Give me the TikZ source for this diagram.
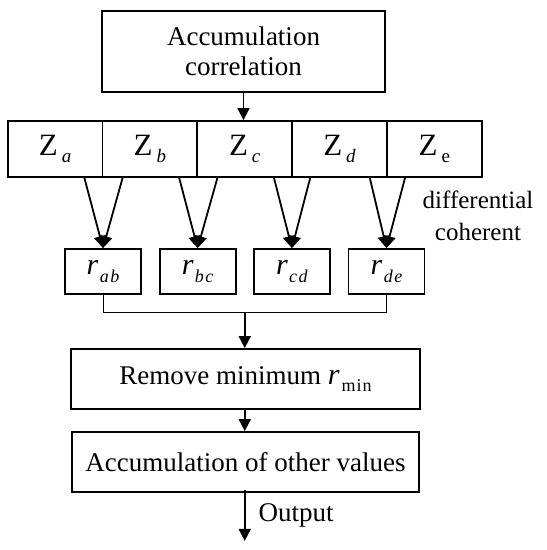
\documentclass[tikz,border=0pt]{standalone}
\usepackage{fontspec}
\setmainfont{Liberation Serif}
\usetikzlibrary{arrows.meta,calc}

\newcommand{\zsub}[1]{{\fontsize{31}{31}\selectfont Z}\kern4pt\raisebox{-7pt}{\fontsize{19}{19}\selectfont #1}}
\newcommand{\rsub}[1]{{\fontsize{30}{30}\selectfont\itshape r}\kern1.5pt\raisebox{-7.5pt}{\fontsize{18}{18}\selectfont\itshape #1}}
\newcommand{\rminlab}{{\fontsize{30}{30}\selectfont\itshape r}\kern2pt\raisebox{-7pt}{\fontsize{18}{18}\selectfont m\kern1pt i\kern1pt n}}

\begin{document}
\begin{tikzpicture}[x=1pt,y=-1pt,
  box/.style={draw, line width=1.8pt, inner sep=0pt, align=center, font=\fontsize{27}{30}\selectfont},
  zcell/.style={box, minimum width=94.8pt, minimum height=56pt},
  rcell/.style={box, minimum width=76pt, minimum height=45pt},
  arr/.style={line width=1.8pt, -{Triangle[length=12pt,width=12pt]}},
  thinline/.style={line width=0.8pt}]
\useasboundingbox (0,0) rectangle (547,550);

\node[box, minimum width=283pt, minimum height=81pt] (acc) at (243.5,51.5) {Accumulation\\correlation};

\node[zcell] (za) at (55.1,149) {\zsub{\itshape a}};
\node[zcell] (zb) at (149.9,149) {\zsub{\itshape b}};
\node[zcell] (zc) at (244.7,149) {\zsub{\itshape c}};
\node[zcell] (zd) at (339.5,149) {\zsub{\itshape d}};
\node[zcell] (ze) at (434.3,149) {\zsub{e}};

\node[rcell] (rab) at (103,271.5) {\rsub{a\kern1.5pt b}};
\node[rcell] (rbc) at (197.6,271.5) {\rsub{b\kern1.5pt c}};
\node[rcell] (rcd) at (291.9,271.5) {\rsub{c\kern1.5pt d}};
\node[rcell] (rde) at (386.5,271.5) {\rsub{d\kern1.5pt e}};

\node[font=\fontsize{25}{32}\selectfont, align=center] (dc) at (478,216) {differential\\coherent};

\node[box, minimum width=349pt, minimum height=60pt] (rem) at (245.5,379) {Remove minimum \rminlab};
\node[box, minimum width=347pt, minimum height=60pt] (oth) at (245.5,462) {Accumulation of other values};

\draw[arr] (acc.south) -- (acc.south |- zc.north);

\draw[arr] ([xshift=-19pt]za.south east) -- (rab.north);
\draw[arr] ([xshift=21pt]zb.south west) -- (rab.north);
\draw[arr] ([xshift=-19pt]zb.south east) -- (rbc.north);
\draw[arr] ([xshift=21pt]zc.south west) -- (rbc.north);
\draw[arr] ([xshift=-19pt]zc.south east) -- (rcd.north);
\draw[arr] ([xshift=19pt]zd.south west) -- (rcd.north);
\draw[arr] ([xshift=-18pt]zd.south east) -- (rde.north);
\draw[arr] ([xshift=19pt]ze.south west) -- (rde.north);

\draw[thinline] (rab.south) -- ++(0,17) -| (rde.south);
\coordinate (brk) at ($(rab.south)!0.5!(rde.south)+(0,17)$);
\draw[arr] (brk) -- (brk |- rem.north);

\draw[arr] (rem.south -| brk) -- (oth.north -| brk);

\coordinate (out) at ($(oth.south -| brk)+(0,48)$);
\draw[arr] ([yshift=3pt]oth.south -| brk) -- (out);
\node[font=\fontsize{27}{30}\selectfont, anchor=west] (outlbl) at (255,515) {Output};
\end{tikzpicture}
\end{document}
